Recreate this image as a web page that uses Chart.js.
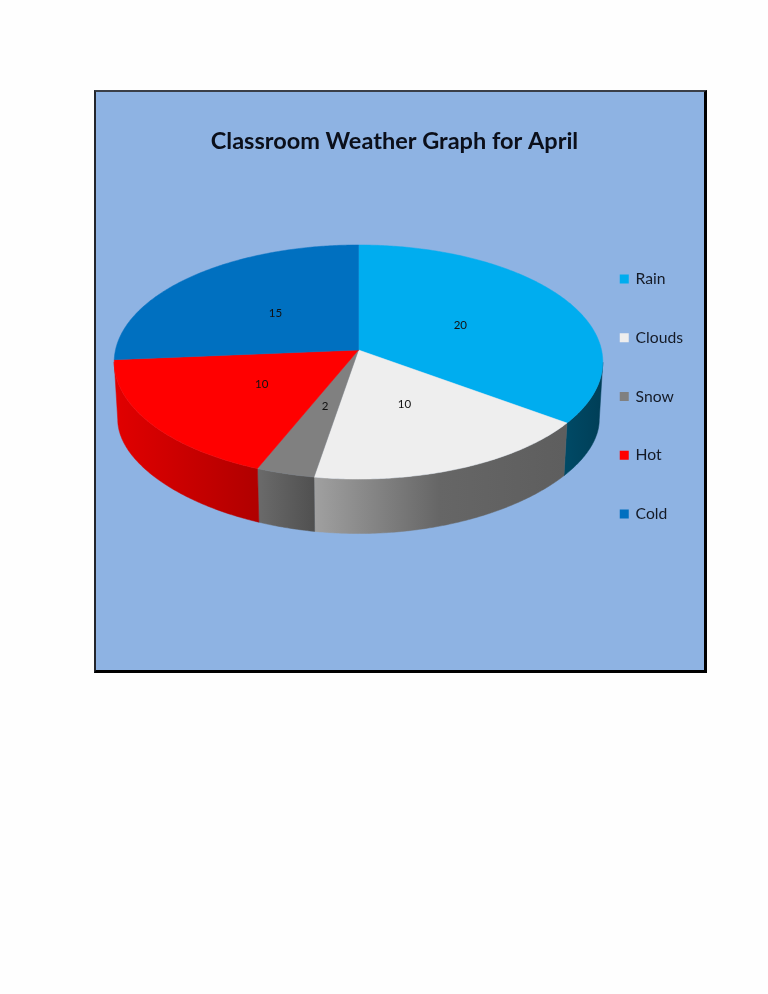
<!DOCTYPE html>
<html>
<head>
<meta charset="utf-8">
<title>Classroom Weather Graph for April</title>
<script src="https://cdn.jsdelivr.net/npm/chart.js@4"></script>
<style>
    html, body { margin: 0; padding: 0; background: #fefefe; }
    body { width: 768px; height: 994px; position: relative; overflow: hidden; }
    .frame {
        position: absolute; left: 94px; top: 90px; width: 608px; height: 578px;
        background: #8eb3e3;
        border-style: solid; border-color: #3a3f48 #000 #000 #23262c;
        border-width: 2px 3px 3px 2px;
    }
    canvas { display: block; }
</style>
</head>
<body>
<div class="frame"><canvas id="weatherChart" width="608" height="578"></canvas></div>
<script>
const categories = ['Rain', 'Clouds', 'Snow', 'Hot', 'Cold'];
const days = [20, 10, 2, 10, 15];
const topColors = ['#00adef', '#eeeeee', '#808080', '#ff0000', '#0070c0'];
// side wall of each slice, left to right (Cold is at the back, no wall)
const wallColors = [
    ['#004a66', '#003f58'],
    ['#a0a0a0', '#666666', '#5e5e5e'],
    ['#6a6a6a', '#505050'],
    ['#e00000', '#b00000'],
    null
];

// projected pie, canvas px (canvas sits at 96,92 on the page)
const CX = 262.5, CY = 258;
const RX = 243, RY = 115.8, PERSPECTIVE = 0.1026;
const BOTTOM_CY = 317, BOTTOM_RX = 239.5, BOTTOM_RY = 99, BOTTOM_PERSPECTIVE = 0.205;
const LABEL_RADIUS = 0.48;

function project(angle, frac, cy, rx, ry, yPerspective) {
    const u = Math.cos(angle) * frac;
    const v = Math.sin(angle) * frac;
    const s = 1 / (1 - PERSPECTIVE * v);
    const sy = 1 / (1 - yPerspective * v);
    return { x: CX + rx * u * s, y: cy + ry * v * sy };
}

function topPoint(angle, frac) {
    return project(angle, frac, CY, RX, RY, PERSPECTIVE);
}

function bottomPoint(angle) {
    return project(angle, 1, BOTTOM_CY, BOTTOM_RX, BOTTOM_RY, BOTTOM_PERSPECTIVE);
}

function rimAngles(start, end) {
    const list = [];
    const steps = Math.max(2, Math.ceil((end - start) / 0.01));
    for (let i = 0; i <= steps; i++) list.push(start + (end - start) * i / steps);
    return list;
}

const tiltedPie = {
    id: 'tiltedPie',
    beforeDatasetDraw(chart, args) {
        const ctx = chart.ctx;
        const arcs = args.meta.data;

        // walls first, the top faces cover whatever is behind them
        arcs.forEach((arc, i) => {
            if (!wallColors[i]) return;
            const front = rimAngles(arc.startAngle, arc.endAngle).filter(a => Math.sin(a) >= 0.1);
            if (front.length < 2) return;
            const top = front.map(a => topPoint(a, 1));
            const bottom = front.map(a => bottomPoint(a));
            const xs = bottom.map(p => p.x);
            const grad = ctx.createLinearGradient(Math.min(...xs), 0, Math.max(...xs), 0);
            wallColors[i].forEach((c, k) => grad.addColorStop(k / (wallColors[i].length - 1), c));
            ctx.beginPath();
            top.forEach((p, k) => k ? ctx.lineTo(p.x, p.y) : ctx.moveTo(p.x, p.y));
            bottom.reverse().forEach(p => ctx.lineTo(p.x, p.y));
            ctx.closePath();
            ctx.fillStyle = grad;
            ctx.strokeStyle = grad;
            ctx.lineWidth = 0.5;
            ctx.fill();
            ctx.stroke();
        });

        arcs.forEach((arc, i) => {
            ctx.beginPath();
            ctx.moveTo(CX, CY);
            rimAngles(arc.startAngle, arc.endAngle).forEach(a => {
                const p = topPoint(a, 1);
                ctx.lineTo(p.x, p.y);
            });
            ctx.closePath();
            ctx.fillStyle = topColors[i];
            ctx.strokeStyle = topColors[i];
            ctx.lineWidth = 0.5;
            ctx.fill();
            ctx.stroke();
        });

        ctx.font = '11.5px Lato';
        ctx.fillStyle = '#111';
        ctx.textAlign = 'center';
        ctx.textBaseline = 'middle';
        arcs.forEach((arc, i) => {
            const p = topPoint((arc.startAngle + arc.endAngle) / 2, LABEL_RADIUS);
            ctx.fillText(days[i], p.x, p.y);
        });
        return false;
    }
};

new Chart(document.getElementById('weatherChart').getContext('2d'), {
    type: 'pie',
    data: {
        labels: categories,
        datasets: [{
            data: days,
            backgroundColor: topColors,
            borderColor: topColors,
            borderWidth: 2
        }]
    },
    options: {
        responsive: false,
        animation: false,
        layout: { padding: { left: 0, right: 11, top: 31, bottom: 0 } },
        plugins: {
            tooltip: { enabled: false },
            title: {
                display: true,
                text: 'Classroom Weather Graph for April',
                color: '#0b0f1a',
                font: { family: 'Lato', size: 23.5, weight: 'bold' },
                padding: { top: 4, bottom: 10 }
            },
            legend: {
                position: 'right',
                labels: {
                    color: '#141a26',
                    font: { family: 'Lato', size: 15.7 },
                    usePointStyle: true,
                    pointStyle: 'rect',
                    pointStyleWidth: 7,
                    boxHeight: 7,
                    padding: 43
                }
            }
        }
    },
    plugins: [tiltedPie]
});
</script>
</body>
</html>
